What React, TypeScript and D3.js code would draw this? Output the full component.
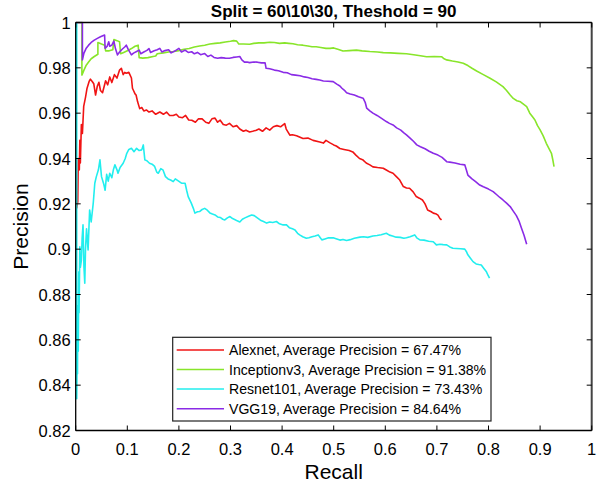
import React from "react";
import * as d3 from "d3";

const W = 598;
const H = 485;

const titleText = "Split = 60\\10\\30, Theshold = 90";
const xLabelText = "Recall";
const yLabelText = "Precision";

const xTickValues = [0, 0.1, 0.2, 0.3, 0.4, 0.5, 0.6, 0.7, 0.8, 0.9, 1];
const xTickLabels = ["0", "0.1", "0.2", "0.3", "0.4", "0.5", "0.6", "0.7", "0.8", "0.9", "1"];
const yTickValues = [0.82, 0.84, 0.86, 0.88, 0.9, 0.92, 0.94, 0.96, 0.98, 1];
const yTickLabels = ["0.82", "0.84", "0.86", "0.88", "0.9", "0.92", "0.94", "0.96", "0.98", "1"];

const seriesNames = [
  "Alexnet, Average Precision = 67.47%",
  "Inceptionv3, Average Precision = 91.38%",
  "Resnet101, Average Precision = 73.43%",
  "VGG19, Average Precision = 84.64%",
];
const seriesColors = ["#f01414", "#88e52a", "#22eeee", "#8a2be6"];

const alexnet: [number, number][] = [
  [0.002,0.918],[0.004,0.921],[0.005,0.940],[0.007,0.935],[0.008,0.948],[0.009,0.938],[0.011,0.955],[0.013,0.951],[0.0155,0.963],[0.019,0.967],[0.022,0.971],[0.026,0.974],[0.0285,0.975],[0.032,0.974],[0.035,0.973],[0.0385,0.968],[0.042,0.972],[0.045,0.9736],[0.048,0.970],[0.052,0.969],[0.058,0.9743],[0.062,0.9725],[0.066,0.976],[0.07,0.9735],[0.075,0.977],[0.08,0.9755],[0.085,0.979],[0.0885,0.9798],[0.092,0.977],[0.095,0.978],[0.098,0.9776],[0.103,0.978],[0.108,0.9755],[0.110,0.971],[0.112,0.970],[0.115,0.9685],[0.117,0.968],[0.120,0.965],[0.124,0.962],[0.128,0.9625],[0.132,0.961],[0.137,0.9614],[0.142,0.9605],[0.148,0.961],[0.155,0.9595],[0.163,0.9605],[0.17,0.9595],[0.176,0.9605],[0.182,0.959],[0.189,0.959],[0.195,0.9595],[0.2,0.9583],[0.207,0.958],[0.213,0.959],[0.219,0.957],[0.225,0.9569],[0.232,0.956],[0.238,0.9575],[0.245,0.9575],[0.252,0.956],[0.258,0.9555],[0.264,0.9575],[0.27,0.9578],[0.275,0.956],[0.28,0.9569],[0.286,0.955],[0.292,0.9547],[0.298,0.9555],[0.305,0.954],[0.312,0.9545],[0.318,0.953],[0.325,0.952],[0.33,0.9525],[0.337,0.9517],[0.343,0.952],[0.35,0.9525],[0.355,0.953],[0.362,0.952],[0.369,0.9535],[0.376,0.9525],[0.383,0.954],[0.39,0.9545],[0.397,0.954],[0.405,0.9554],[0.408,0.953],[0.415,0.9503],[0.42,0.9505],[0.428,0.950],[0.4405,0.9488],[0.45,0.949],[0.46,0.948],[0.473,0.9473],[0.48,0.9468],[0.485,0.948],[0.492,0.947],[0.50,0.946],[0.505,0.9455],[0.512,0.9444],[0.52,0.944],[0.53,0.9435],[0.537,0.9429],[0.543,0.9415],[0.550,0.940],[0.556,0.9395],[0.563,0.938],[0.57,0.9372],[0.576,0.9363],[0.585,0.936],[0.596,0.9357],[0.602,0.9349],[0.609,0.934],[0.615,0.9335],[0.6215,0.932],[0.628,0.9305],[0.635,0.9276],[0.641,0.927],[0.647,0.9269],[0.654,0.9253],[0.66,0.9232],[0.666,0.9225],[0.672,0.9217],[0.677,0.920],[0.682,0.9173],[0.689,0.9165],[0.693,0.9159],[0.699,0.9155],[0.702,0.915],[0.706,0.9135],[0.709,0.9129],
];

const inceptionv3: [number, number][] = [
  [0,1],[0.012,1],[0.012,0.9768],[0.016,0.979],[0.02,0.981],[0.025,0.9826],[0.03,0.984],[0.036,0.985],[0.043,0.986],[0.043,0.9912],[0.05,0.9905],[0.056,0.990],[0.058,0.9875],[0.065,0.9875],[0.072,0.988],[0.074,0.9925],[0.08,0.992],[0.085,0.9915],[0.087,0.9862],[0.093,0.9868],[0.1,0.9875],[0.108,0.9885],[0.115,0.9895],[0.121,0.990],[0.123,0.9845],[0.13,0.9843],[0.14,0.9845],[0.15,0.985],[0.155,0.9852],[0.158,0.9862],[0.17,0.9866],[0.18,0.987],[0.19,0.9872],[0.2,0.9876],[0.21,0.9882],[0.22,0.9885],[0.23,0.9892],[0.24,0.9896],[0.25,0.990],[0.26,0.9905],[0.27,0.9908],[0.28,0.991],[0.29,0.9914],[0.30,0.9917],[0.306,0.992],[0.312,0.9918],[0.316,0.9905],[0.325,0.9905],[0.337,0.9904],[0.345,0.9908],[0.355,0.991],[0.365,0.991],[0.376,0.9913],[0.385,0.9912],[0.395,0.9908],[0.405,0.991],[0.413,0.9908],[0.421,0.9906],[0.43,0.9902],[0.44,0.99],[0.45,0.9896],[0.458,0.9893],[0.466,0.9893],[0.475,0.989],[0.485,0.9886],[0.493,0.9886],[0.50,0.9888],[0.508,0.9882],[0.518,0.9874],[0.53,0.9876],[0.544,0.9878],[0.555,0.9875],[0.57,0.9872],[0.585,0.987],[0.596,0.9867],[0.61,0.9866],[0.625,0.9864],[0.641,0.9862],[0.655,0.9858],[0.668,0.9853],[0.68,0.9849],[0.695,0.985],[0.709,0.9849],[0.714,0.984],[0.719,0.9835],[0.73,0.983],[0.741,0.9826],[0.751,0.982],[0.76,0.981],[0.768,0.9798],[0.777,0.9786],[0.79,0.977],[0.803,0.9754],[0.815,0.9738],[0.828,0.9717],[0.835,0.970],[0.842,0.968],[0.848,0.9665],[0.855,0.9655],[0.862,0.965],[0.874,0.9629],[0.88,0.960],[0.885,0.9585],[0.89,0.957],[0.895,0.9545],[0.900,0.9526],[0.906,0.950],[0.912,0.9467],[0.917,0.9445],[0.922,0.9423],[0.925,0.939],[0.927,0.9364],
];

const resnet101: [number, number][] = [
  [0.002,1],[0.002,0.834],[0.003,0.86],[0.0035,0.845],[0.004,0.875],[0.005,0.855],[0.006,0.89],[0.0065,0.872],[0.008,0.901],[0.009,0.892],[0.011,0.895],[0.0125,0.905],[0.0142,0.9107],[0.016,0.892],[0.0176,0.885],[0.019,0.900],[0.021,0.909],[0.024,0.8997],[0.027,0.9173],[0.030,0.912],[0.034,0.9203],[0.037,0.9291],[0.04,0.932],[0.044,0.935],[0.047,0.9394],[0.05,0.932],[0.054,0.929],[0.057,0.926],[0.06,0.933],[0.063,0.930],[0.066,0.9335],[0.07,0.9315],[0.073,0.935],[0.076,0.9372],[0.08,0.935],[0.082,0.9335],[0.086,0.936],[0.092,0.9379],[0.096,0.940],[0.099,0.9423],[0.103,0.944],[0.108,0.9445],[0.113,0.943],[0.118,0.9445],[0.123,0.9435],[0.128,0.9438],[0.131,0.946],[0.134,0.9394],[0.138,0.939],[0.143,0.9379],[0.148,0.9375],[0.153,0.9365],[0.157,0.934],[0.16,0.9335],[0.165,0.9355],[0.169,0.935],[0.174,0.932],[0.179,0.931],[0.184,0.9305],[0.189,0.9298],[0.193,0.931],[0.198,0.9302],[0.205,0.9291],[0.212,0.9291],[0.215,0.926],[0.218,0.9232],[0.224,0.9203],[0.228,0.918],[0.231,0.9159],[0.236,0.9165],[0.24,0.9166],[0.245,0.9175],[0.25,0.918],[0.255,0.9172],[0.26,0.916],[0.265,0.9155],[0.27,0.9151],[0.275,0.9142],[0.28,0.914],[0.285,0.9132],[0.289,0.9129],[0.294,0.9138],[0.299,0.9144],[0.304,0.9135],[0.309,0.913],[0.313,0.9125],[0.318,0.912],[0.323,0.9132],[0.328,0.9138],[0.335,0.9145],[0.341,0.9151],[0.346,0.9148],[0.352,0.9138],[0.358,0.9128],[0.364,0.9122],[0.37,0.9115],[0.376,0.912],[0.382,0.9118],[0.389,0.9122],[0.395,0.9112],[0.402,0.9107],[0.408,0.9108],[0.414,0.9095],[0.42,0.909],[0.425,0.9085],[0.43,0.907],[0.434,0.9063],[0.44,0.9055],[0.447,0.9048],[0.452,0.905],[0.458,0.9055],[0.464,0.9058],[0.47,0.9063],[0.474,0.905],[0.477,0.9041],[0.483,0.9045],[0.49,0.905],[0.499,0.905],[0.506,0.9045],[0.512,0.904],[0.518,0.9043],[0.525,0.9038],[0.532,0.9042],[0.54,0.9048],[0.551,0.9053],[0.558,0.9055],[0.566,0.9052],[0.576,0.9058],[0.584,0.906],[0.592,0.9064],[0.602,0.907],[0.608,0.9062],[0.614,0.9058],[0.621,0.9053],[0.629,0.9052],[0.636,0.9048],[0.641,0.905],[0.648,0.9055],[0.657,0.9063],[0.661,0.905],[0.667,0.9041],[0.675,0.904],[0.684,0.9035],[0.693,0.9033],[0.699,0.9019],[0.706,0.9022],[0.712,0.902],[0.719,0.9019],[0.725,0.901],[0.731,0.9004],[0.738,0.9003],[0.746,0.9002],[0.754,0.90],[0.757,0.899],[0.76,0.8975],[0.765,0.896],[0.77,0.8945],[0.776,0.8935],[0.781,0.8932],[0.786,0.893],[0.791,0.8915],[0.796,0.89],[0.799,0.8885],[0.802,0.8872],
];

const vgg19: [number, number][] = [
  [0,1],[0.013,1],[0.013,0.9835],[0.016,0.9865],[0.02,0.9885],[0.025,0.990],[0.03,0.9912],[0.036,0.9922],[0.042,0.993],[0.048,0.9937],[0.056,0.9945],[0.057,0.9886],[0.061,0.9895],[0.064,0.9915],[0.066,0.9895],[0.07,0.990],[0.074,0.9918],[0.077,0.9885],[0.081,0.9857],[0.085,0.987],[0.09,0.9882],[0.095,0.9892],[0.098,0.990],[0.102,0.988],[0.108,0.9857],[0.112,0.9865],[0.118,0.9872],[0.123,0.9878],[0.126,0.9862],[0.132,0.987],[0.138,0.9877],[0.142,0.9885],[0.145,0.9868],[0.152,0.9875],[0.158,0.988],[0.163,0.9886],[0.167,0.987],[0.173,0.9876],[0.18,0.988],[0.185,0.9866],[0.192,0.9874],[0.2,0.9886],[0.205,0.987],[0.212,0.9878],[0.218,0.9868],[0.2248,0.9871],[0.23,0.9862],[0.236,0.9868],[0.242,0.9858],[0.25,0.9863],[0.256,0.985],[0.262,0.9856],[0.268,0.9846],[0.275,0.9842],[0.282,0.9845],[0.29,0.9843],[0.298,0.9842],[0.305,0.9846],[0.312,0.9848],[0.318,0.985],[0.322,0.9835],[0.327,0.9825],[0.332,0.9826],[0.337,0.9823],[0.345,0.9826],[0.352,0.9825],[0.36,0.9822],[0.367,0.9822],[0.369,0.9798],[0.376,0.9796],[0.385,0.979],[0.393,0.9787],[0.402,0.978],[0.41,0.9778],[0.418,0.977],[0.426,0.9768],[0.435,0.9765],[0.443,0.976],[0.45,0.9757],[0.458,0.9752],[0.466,0.9749],[0.473,0.9746],[0.48,0.9742],[0.489,0.9741],[0.499,0.9739],[0.506,0.9728],[0.512,0.972],[0.516,0.971],[0.522,0.9698],[0.525,0.969],[0.532,0.9685],[0.54,0.968],[0.548,0.9672],[0.557,0.9666],[0.561,0.9648],[0.564,0.9622],[0.57,0.961],[0.576,0.96],[0.584,0.959],[0.592,0.9578],[0.602,0.9563],[0.608,0.9555],[0.615,0.9548],[0.622,0.9535],[0.63,0.9525],[0.636,0.9513],[0.641,0.9504],[0.648,0.949],[0.655,0.9475],[0.661,0.946],[0.668,0.9452],[0.677,0.9443],[0.685,0.9432],[0.693,0.9423],[0.702,0.9415],[0.71,0.9405],[0.719,0.9386],[0.725,0.9384],[0.735,0.938],[0.745,0.9375],[0.754,0.9372],[0.757,0.935],[0.76,0.9327],[0.768,0.931],[0.775,0.9298],[0.783,0.9283],[0.79,0.9275],[0.8,0.9265],[0.809,0.9254],[0.816,0.924],[0.822,0.9228],[0.828,0.9217],[0.835,0.9203],[0.842,0.9188],[0.848,0.9168],[0.854,0.9148],[0.859,0.9125],[0.864,0.9092],[0.869,0.906],[0.874,0.9022],
];

const seriesData = [alexnet, inceptionv3, resnet101, vgg19];

const FONT = "'Liberation Sans', Arial, Helvetica, sans-serif";

export default function App() {
  const left = 75.7, right = 591.7, top = 22.5, bottom = 430.5;
  const x = d3.scaleLinear().domain([0, 1]).range([left, right]);
  const y = d3.scaleLinear().domain([0.82, 1]).range([bottom, top]);
  const line = d3.line<[number, number]>().x((d) => x(d[0])).y((d) => y(d[1]));
  const tickLen = 5;

  const legX0 = 172.7, legX1 = 491, legY0 = 337.3, legY1 = 421;
  const legRows = [350, 369.5, 389, 408.8];

  return (
    <svg width={W} height={H} style={{ position: "absolute", left: 0, top: 0, background: "#fff" }} fontFamily={FONT}>
      <rect x={0} y={0} width={W} height={H} fill="#fff" />
      <defs>
        <clipPath id="plotclip">
          <rect x={left} y={top - 1} width={right - left} height={bottom - top + 1} />
        </clipPath>
      </defs>
      <g clipPath="url(#plotclip)">
        {seriesData.map((d, i) => (
          <path key={i} d={line(d) || ""} fill="none" stroke={seriesColors[i]} strokeWidth={1.6} strokeLinejoin="round" />
        ))}
      </g>
      <g stroke="#000" strokeWidth={1.3} fill="none">
        <line x1={left} x2={right} y1={bottom} y2={bottom} />
        <line x1={left} x2={right} y1={top} y2={top} />
        <line x1={left} x2={left} y1={top} y2={bottom} />
        <line x1={right} x2={right} y1={top} y2={bottom} stroke="#444" strokeWidth={2} />
      </g>
      <g stroke="#000" strokeWidth={1}>
        {xTickValues.map((v, i) => (
          <g key={"xt" + i}>
            <line x1={x(v)} x2={x(v)} y1={bottom} y2={bottom - tickLen} />
            <line x1={x(v)} x2={x(v)} y1={top} y2={top + tickLen} />
          </g>
        ))}
        {yTickValues.map((v, i) => (
          <g key={"yt" + i}>
            <line x1={left} x2={left + tickLen} y1={y(v)} y2={y(v)} />
            <line x1={right} x2={right - tickLen} y1={y(v)} y2={y(v)} />
          </g>
        ))}
      </g>
      <g fontSize={16.5} fill="#000">
        {xTickValues.map((v, i) => (
          <text key={"xl" + i} x={x(v)} y={bottom + 24} textAnchor="middle">{xTickLabels[i]}</text>
        ))}
        {yTickValues.map((v, i) => (
          <text key={"yl" + i} x={left - 5} y={y(v) + 6} textAnchor="end">{yTickLabels[i]}</text>
        ))}
      </g>
      <text x={(left + right) / 2} y={17} textAnchor="middle" fontSize={17} fontWeight="bold">{titleText}</text>
      <text x={(left + right) / 2} y={479} textAnchor="middle" fontSize={21}>{xLabelText}</text>
      <text transform={`translate(28,${(top + bottom) / 2}) rotate(-90)`} textAnchor="middle" fontSize={21}>{yLabelText}</text>
      <rect x={legX0} y={legY0} width={legX1 - legX0} height={legY1 - legY0} fill="#fff" stroke="#222" strokeWidth={1.2} />
      {seriesNames.map((n, i) => (
        <g key={"lg" + i}>
          <line x1={176.7} x2={224} y1={legRows[i]} y2={legRows[i]} stroke={seriesColors[i]} strokeWidth={1.6} />
          <text x={229} y={legRows[i] + 5} fontSize={14.1}>{n}</text>
        </g>
      ))}
    </svg>
  );
}
